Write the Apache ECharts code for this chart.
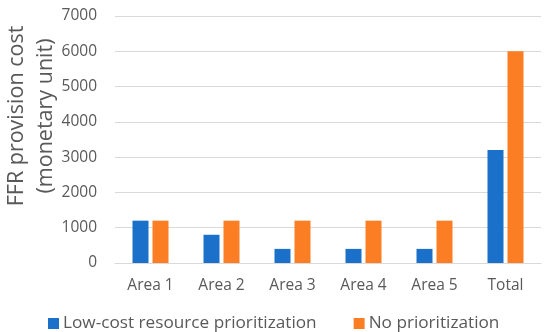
<!DOCTYPE html>
<html><head><meta charset="utf-8">
<script src="https://cdn.jsdelivr.net/npm/echarts@6/dist/echarts.min.js"></script>
<style>html,body{margin:0;padding:0;background:#fff}#c{width:550px;height:332px}</style>
</head><body><div id="c"></div>
<script>
const categories = ['Area 1','Area 2','Area 3','Area 4','Area 5','Total'];
const lowCost = [1200, 800, 400, 400, 400, 3200];
const noPrior = [1200, 1200, 1200, 1200, 1200, 6000];
const seriesNames = ['Low-cost resource prioritization','No prioritization'];
const yTitle = 'FFR provision cost\n(monetary unit)';
const FONT = '"Open Sans", sans-serif';
const chart = echarts.init(document.getElementById('c'), null, {renderer:'canvas'});
chart.setOption({
  animation:false,
  backgroundColor:'#fff',
  textStyle:{fontFamily:FONT},
  grid:{left:115, right:9, top:16, bottom:69, containLabel:false},
  legend:{
    left:43, top:310, itemWidth:11, itemHeight:11, itemGap:37, icon:'rect',
    textStyle:{fontSize:17.2, color:'#595959', fontFamily:FONT, padding:[0,0,0,-1]},
    data:seriesNames
  },
  graphic:[{
    type:'text', x:31, y:116, rotation:Math.PI/2,
    style:{text:yTitle, fontSize:21.5, fontFamily:FONT, fill:'#595959', align:'center', verticalAlign:'middle', lineHeight:29}
  }],
  xAxis:{
    type:'category', data:categories,
    axisLine:{lineStyle:{color:'#d9d9d9'}}, axisTick:{show:false},
    axisLabel:{fontSize:15.5, color:'#595959', margin:15, fontFamily:FONT}
  },
  yAxis:{
    type:'value', min:0, max:7000, interval:1000,
    axisLine:{show:false}, axisTick:{show:false},
    splitLine:{lineStyle:{color:'#d9d9d9'}},
    axisLabel:{fontSize:15.5, color:'#595959', margin:18, fontFamily:FONT, formatter:function(v){return String(v);}}
  },
  series:[
    {name:seriesNames[0], type:'bar', data:lowCost, barWidth:16, barGap:'25%', itemStyle:{color:'#1b70c9'}},
    {name:seriesNames[1], type:'bar', data:noPrior, barWidth:16, barGap:'25%', itemStyle:{color:'#fb7e24'}}
  ]
});
</script></body></html>
